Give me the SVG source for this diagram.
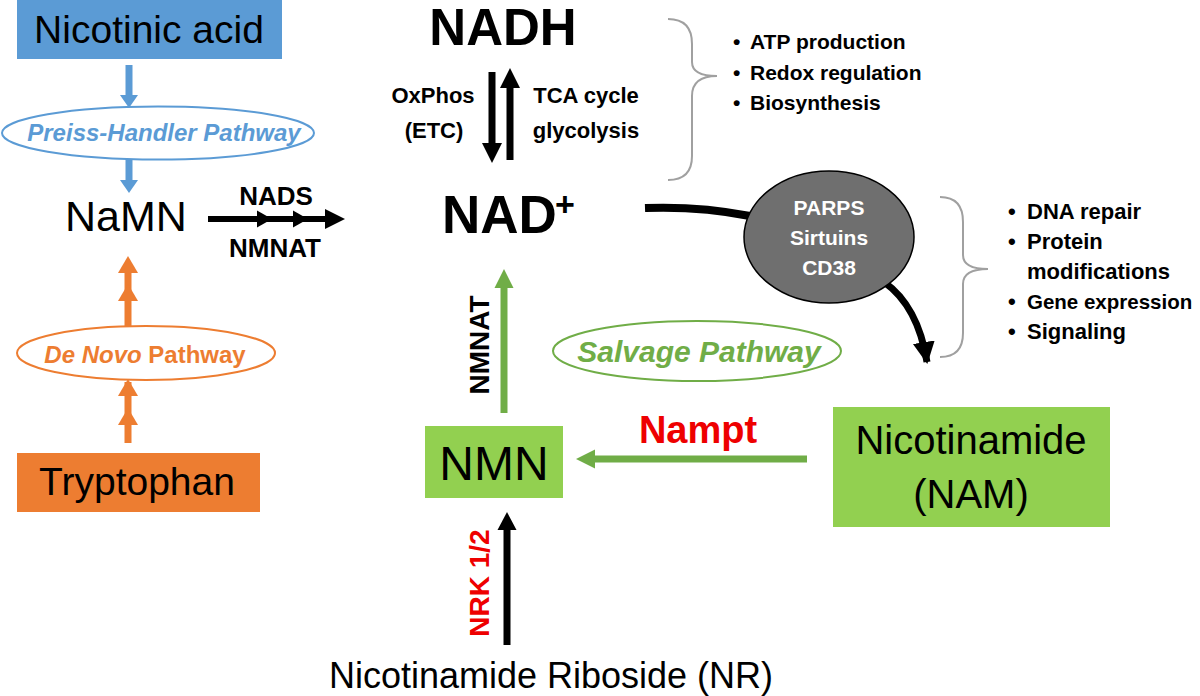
<svg xmlns="http://www.w3.org/2000/svg" width="1200" height="696" viewBox="0 0 1200 696">
<defs>
<style>
text{font-family:"Liberation Sans",Arial,sans-serif;fill:#000}
.b{font-weight:bold}
.bi{font-weight:bold;font-style:italic}
.blue{fill:#5b9bd5}
.orange{fill:#ed7d31}
.green{fill:#70ad47}
.red{fill:#ee0000}
.white{fill:#fff}
.brace{fill:none;stroke:#a0a0a0;stroke-width:2}
</style>
<marker id="blk" markerUnits="userSpaceOnUse" markerWidth="24" markerHeight="24" viewBox="0 0 24 24" refX="20" refY="12" orient="auto">
<path d="M0,1 L22,12 L0,23 Z" fill="#000"/>
</marker>
</defs>
<rect width="1200" height="696" fill="#fff"/>

<g id="connectors">
<line x1="129" y1="65" x2="129" y2="97" stroke="#5b9bd5" stroke-width="7"/>
<polygon points="120,95 138,95 129,108" fill="#5b9bd5"/>
<line x1="129" y1="158" x2="129" y2="182" stroke="#5b9bd5" stroke-width="7"/>
<polygon points="120,180 138,180 129,193" fill="#5b9bd5"/>
<line x1="128" y1="443" x2="128" y2="382" stroke="#ed7d31" stroke-width="7"/>
<polygon points="118,425 138,425 128,408" fill="#ed7d31"/>
<polygon points="118,396 138,396 128,379" fill="#ed7d31"/>
<line x1="128" y1="328" x2="128" y2="272" stroke="#ed7d31" stroke-width="7"/>
<polygon points="118,301 138,301 128,284" fill="#ed7d31"/>
<polygon points="118,273 138,273 128,256" fill="#ed7d31"/>
<line x1="208" y1="219" x2="327" y2="219" stroke="#000" stroke-width="6"/>
<polygon points="257,210.5 272,219 257,227.5" fill="#000"/>
<polygon points="293,210.5 308,219 293,227.5" fill="#000"/>
<polygon points="325,209 345,219 325,229" fill="#000"/>
<line x1="492" y1="72" x2="492" y2="145" stroke="#000" stroke-width="7"/>
<polygon points="482,143 502,143 492,163" fill="#000"/>
<line x1="510" y1="160" x2="510" y2="86" stroke="#000" stroke-width="7"/>
<polygon points="500,88 520,88 510,68" fill="#000"/>
<path d="M645,208 Q700,206 750,216" fill="none" stroke="#000" stroke-width="8"/>
<path d="M884,282 Q918,306 927,362" fill="none" stroke="#000" stroke-width="7" marker-end="url(#blk)"/>
<line x1="504" y1="413" x2="504" y2="286" stroke="#70ad47" stroke-width="7"/>
<polygon points="494.5,288 513.5,288 504,269" fill="#70ad47"/>
<line x1="807" y1="459" x2="593" y2="459" stroke="#70ad47" stroke-width="7"/>
<polygon points="595,449.5 595,468.5 576,459" fill="#70ad47"/>
<line x1="507" y1="645" x2="507" y2="528" stroke="#000" stroke-width="7"/>
<polygon points="497.5,530 516.5,530 507,512" fill="#000"/>
</g>

<g id="labels">
<text x="276" y="205" font-size="26" class="b" text-anchor="middle">NADS</text>
<text x="275" y="257" font-size="26" class="b" text-anchor="middle">NMNAT</text>
<text x="433" y="103" font-size="22" class="b" text-anchor="middle">OxPhos</text>
<text x="434" y="138" font-size="22" class="b" text-anchor="middle">(ETC)</text>
<text x="586" y="103" font-size="22" class="b" text-anchor="middle">TCA cycle</text>
<text x="586" y="138" font-size="22" class="b" text-anchor="middle">glycolysis</text>
<text transform="translate(489,345) rotate(-90)" font-size="28" class="b" text-anchor="middle">NMNAT</text>
<text x="698" y="443" font-size="38" class="b red" text-anchor="middle">Nampt</text>
<text transform="translate(489,583) rotate(-90)" font-size="28" class="b red" text-anchor="middle">NRK 1/2</text>
</g>

<g id="nicotinic-acid">
<rect x="17" y="0" width="265" height="59" fill="#5b9bd5"/>
<text x="149" y="43" font-size="39" text-anchor="middle">Nicotinic acid</text>
</g>

<g id="preiss-handler">
<ellipse cx="158" cy="133" rx="156" ry="26.5" fill="#fff" stroke="#5b9bd5" stroke-width="2"/>
<text x="164" y="141" font-size="24" class="bi blue" text-anchor="middle">Preiss-Handler Pathway</text>
</g>

<g id="namn">
<text x="65" y="231" font-size="43">NaMN</text>
</g>

<g id="de-novo">
<ellipse cx="146" cy="353" rx="129" ry="27" fill="#fff" stroke="#ed7d31" stroke-width="2"/>
<text x="145" y="363" font-size="24" class="b orange" text-anchor="middle"><tspan font-style="italic">De Novo</tspan> Pathway</text>
</g>

<g id="tryptophan">
<rect x="17" y="453" width="243" height="59" fill="#ed7d31"/>
<text x="137" y="495" font-size="39" text-anchor="middle">Tryptophan</text>
</g>

<g id="nadh">
<text x="503" y="45" font-size="51" class="b" text-anchor="middle">NADH</text>
</g>

<g id="nad">
<text x="442" y="233" font-size="53" class="b">NAD</text>
<text x="555" y="216" font-size="34" class="b">+</text>
</g>

<g id="nadh-functions">
<path class="brace" d="M668,19 Q692,19 692,44 L692,62 Q692,76 717,76 Q692,76 692,96 L692,156 Q692,180 668,180"/>
<text x="733" y="49" font-size="21" class="b">•</text>
<text x="750" y="49" font-size="21" class="b">ATP production</text>
<text x="733" y="80" font-size="21" class="b">•</text>
<text x="750" y="80" font-size="21" class="b">Redox regulation</text>
<text x="733" y="110" font-size="21" class="b">•</text>
<text x="750" y="110" font-size="21" class="b">Biosynthesis</text>
</g>

<g id="enzymes">
<ellipse cx="829" cy="237" rx="85" ry="66" fill="#6f6f6f" stroke="#000" stroke-width="1.5"/>
<text x="829" y="215" font-size="21" class="b white" text-anchor="middle">PARPS</text>
<text x="829" y="245" font-size="21" class="b white" text-anchor="middle">Sirtuins</text>
<text x="829" y="275" font-size="21" class="b white" text-anchor="middle">CD38</text>
</g>

<g id="nad-functions">
<path class="brace" d="M940,197 Q963,197 963,222 L963,255 Q963,269 988,269 Q963,269 963,284 L963,333 Q963,357 940,357"/>
<text x="1008" y="219" font-size="22" class="b">•</text>
<text x="1027" y="219" font-size="22" class="b">DNA repair</text>
<text x="1008" y="249" font-size="22" class="b">•</text>
<text x="1027" y="249" font-size="22" class="b">Protein</text>
<text x="1027" y="279" font-size="22" class="b">modifications</text>
<text x="1008" y="309" font-size="22" class="b">•</text>
<text x="1027" y="309" font-size="20.5" class="b">Gene expression</text>
<text x="1008" y="339" font-size="22" class="b">•</text>
<text x="1027" y="339" font-size="22" class="b">Signaling</text>
</g>

<g id="salvage">
<ellipse cx="697" cy="351" rx="144" ry="30" fill="#fff" stroke="#70ad47" stroke-width="2"/>
<text x="699" y="362" font-size="30" class="bi green" text-anchor="middle">Salvage Pathway</text>
</g>

<g id="nmn">
<rect x="425" y="426" width="138" height="72" fill="#92d050"/>
<text x="494" y="480" font-size="48" text-anchor="middle">NMN</text>
</g>

<g id="nicotinamide">
<rect x="833" y="407" width="277" height="120" fill="#92d050"/>
<text x="971" y="454" font-size="40" text-anchor="middle">Nicotinamide</text>
<text x="971" y="508" font-size="40" text-anchor="middle">(NAM)</text>
</g>

<g id="nicotinamide-riboside">
<text x="551" y="688" font-size="36" text-anchor="middle">Nicotinamide Riboside (NR)</text>
</g>
</svg>
